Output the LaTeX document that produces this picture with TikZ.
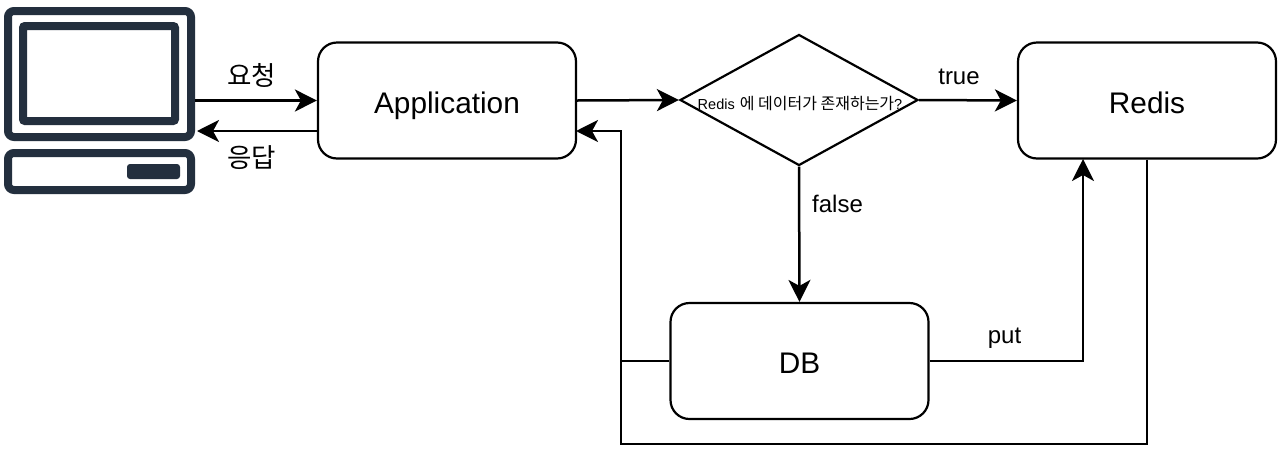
\documentclass[tikz,border=0pt]{standalone}
\usepackage{fontspec}
\setmainfont{Liberation Sans}
\newfontfamily\krfont{Noto Sans CJK KR}
\usetikzlibrary{arrows.meta,shapes.geometric}
\definecolor{pcdark}{HTML}{232F3E}
\tikzset{
  x=1pt,y=-1pt,
  boxnode/.style={draw=black,line width=2.2pt,rounded corners=19pt,fill=white,inner sep=0pt,
    minimum width=258pt,minimum height=116pt,font=\fontsize{29.8}{32}\selectfont,
    text height=25pt,text depth=0pt},
  decide/.style={draw=black,line width=2.2pt,diamond,aspect=1.83,fill=white,inner sep=0pt,
    minimum width=238pt,minimum height=131pt},
  pcpart/.style={draw=pcdark,line width=8pt,rounded corners=6pt,fill=white,inner sep=0pt},
  pcslot/.style={draw=none,fill=pcdark,rounded corners=3pt,inner sep=0pt,minimum width=53pt,minimum height=15pt},
  flow/.style={draw=black,line width=2.5pt,line join=miter},
  tipped/.style={flow,-{Stealth[length=22pt,width=22pt,inset=6pt]}},
  lab/.style={font=\fontsize{24}{26}\selectfont,inner sep=0pt,anchor=center},
  krlab/.style={font=\krfont\fontsize{26.5}{28}\selectfont,inner sep=0pt,anchor=center},
}
\begin{document}
\begin{tikzpicture}
\useasboundingbox (0,0) rectangle (1280,448);
\fill[white] (0,0) rectangle (1280,448);

% computer
\node[pcpart,minimum width=183pt,minimum height=126pt] (monitor) at (99.5,74) {};
\node[pcpart,minimum width=152pt,minimum height=95pt,rounded corners=2pt] (screen) at (99,73.5) {};
\node[pcpart,minimum width=183pt,minimum height=37pt] (base) at (99.5,171.5) {};
\node[pcslot] (slot) at (153.5,171.5) {};

% boxes
\node[boxnode] (app) at (447,100.5) {Application};
\node[boxnode] (redis) at (1147,100.5) {Redis};
\node[boxnode] (db) at (799.5,361) {DB};
\node[decide] (check) at (799,100) {};
\node[inner sep=0pt,font=\fontsize{14.5}{16}\selectfont] (checktext) at (800,104)
  {Redis\hspace{1pt} {\krfont\fontsize{16}{16}\selectfont 에 데이터가 존재하는가}?};

% helper coordinates
\coordinate (backin) at (576,131);
\coordinate (backout) at (318,131);
\coordinate (pcback) at (197,131);
\coordinate (turnA) at (621,131);
\coordinate (turnB) at (621,361);
\coordinate (turnC) at (621,444);
\coordinate (turnD) at (1147,444);
\coordinate (turnE) at (1083,361);
\coordinate (redisin) at (1083,159);

% connectors
\draw[tipped] (monitor.east |- app.west) -- (app.west);
\draw[tipped] (backout) -- (pcback);
\draw[tipped] (app.east) -- (check.west);
\draw[tipped] (check.east) -- (redis.west);
\draw[tipped] (check.south) -- (db.north);
\draw[flow] (db.west) -- (turnB);
\draw[tipped] (redis.south) -- (turnD) -- (turnC) -- (turnA) -- (backin);
\draw[tipped] (db.east) -- (turnE) -- (redisin);

% labels
\node[krlab] (reqlabel) at (251.5,75) {요청};
\node[krlab] (reslabel) at (251.5,158) {응답};
\node[lab] (truelabel) at (959,77) {true};
\node[lab] (falselabel) at (837.5,204) {false};
\node[lab] (putlabel) at (1004.5,338) {put};
\end{tikzpicture}
\end{document}
